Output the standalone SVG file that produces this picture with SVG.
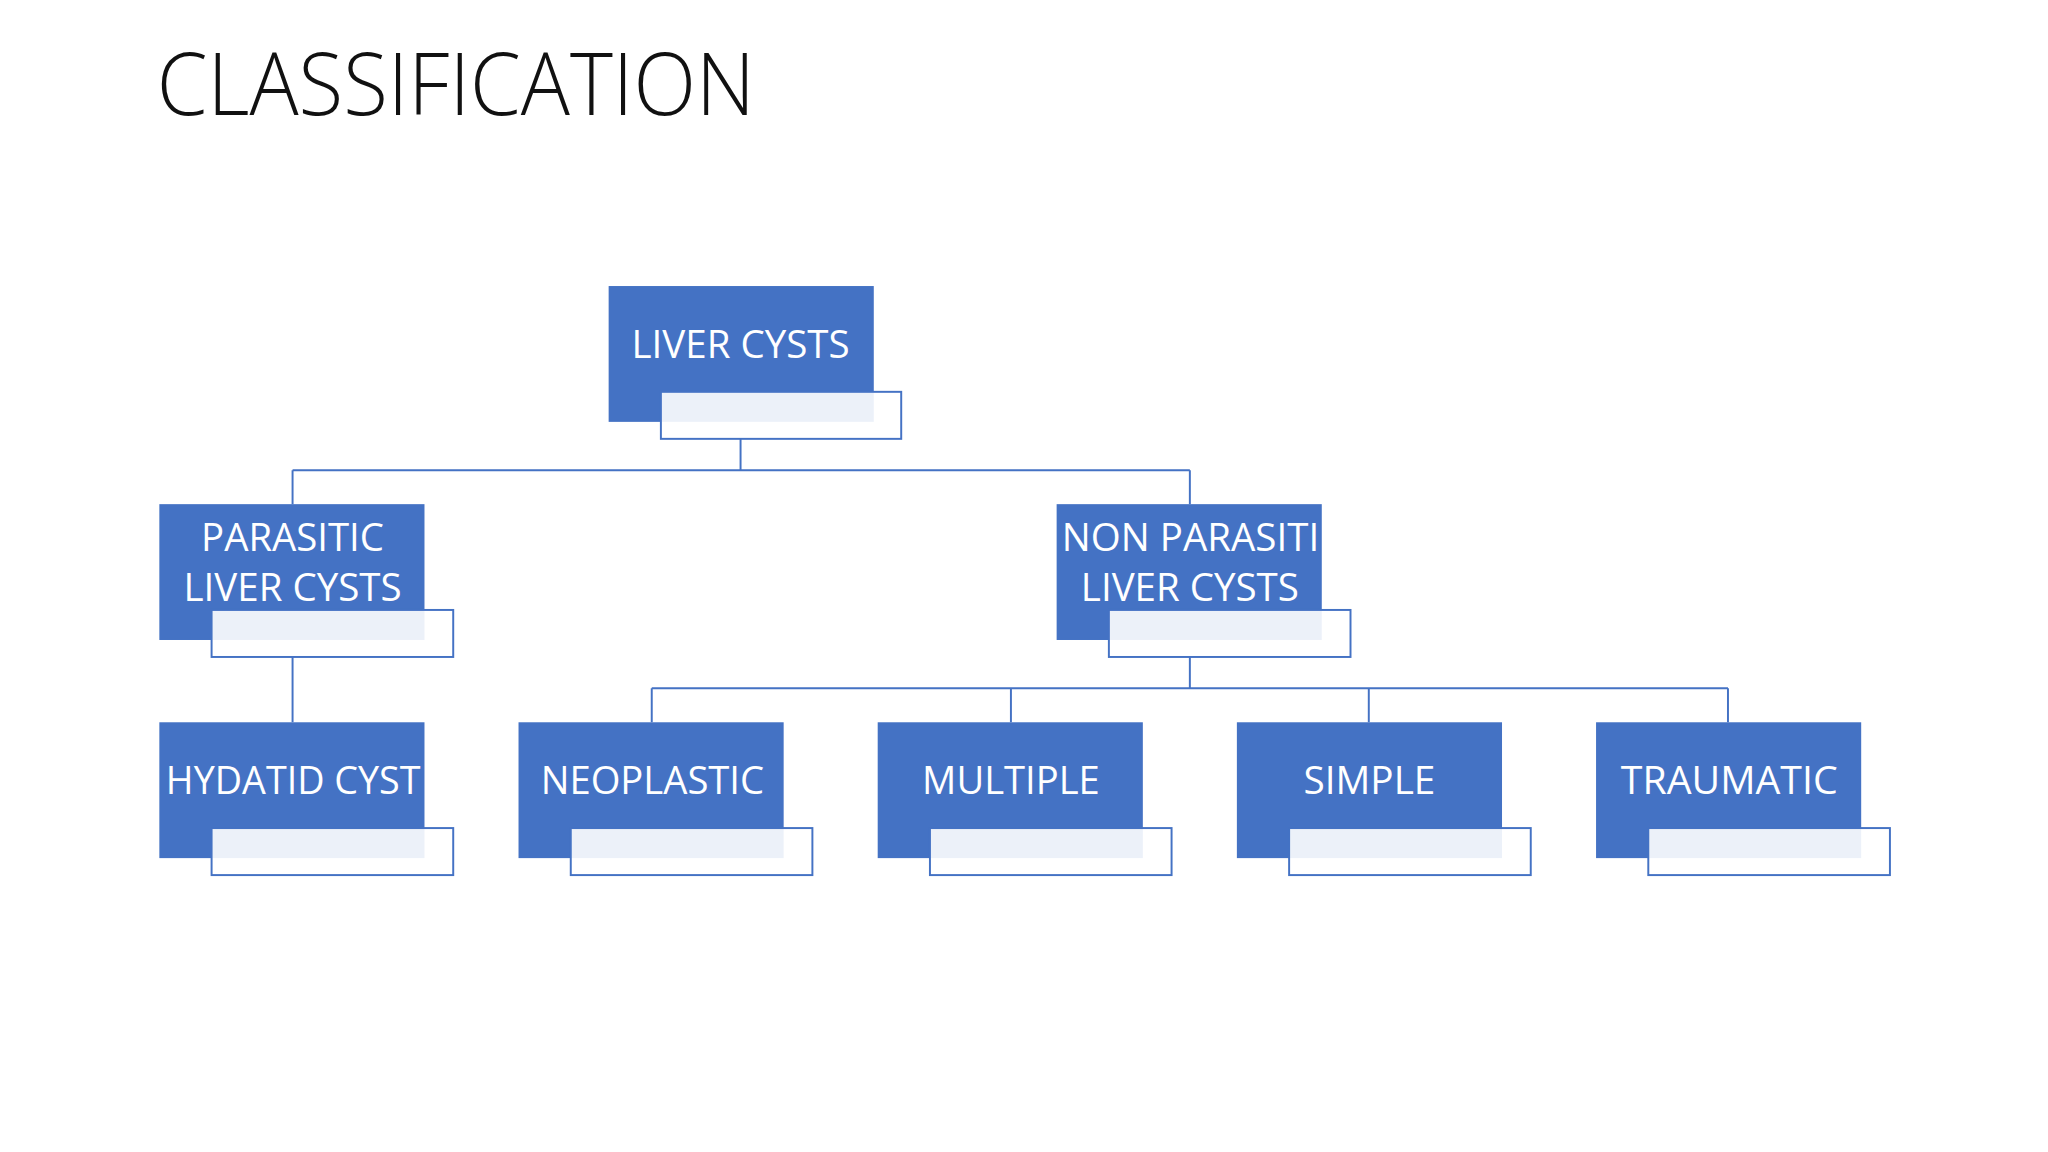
<svg xmlns="http://www.w3.org/2000/svg" width="2048" height="1152" viewBox="0 0 2048 1152">
<style>
.b{fill:#4472C4}
.i{fill:#fff;fill-opacity:0.9;stroke:#4472C4;stroke-width:1.5}
.t{font-family:"Open Sans","Liberation Sans",sans-serif;font-size:29px;fill:#fff;text-anchor:middle}
.c{fill:none;stroke:#4472C4;stroke-width:1.5}
</style>
<rect width="2048" height="1152" fill="#fff"/>
<g transform="scale(1.3061)">
<text x="120" y="88" font-family="Open Sans, Liberation Sans, sans-serif" font-weight="300" font-size="66" textLength="458" lengthAdjust="spacingAndGlyphs" fill="#111">CLASSIFICATION</text>
<g id="connectors">
<path class="c" d="M567 336V360M224 360H911M224 360V386M911 360V386M224 503V553M911 503V527M499 527H1323M499 527V553M774 527V553M1048 527V553M1323 527V553"/>
</g>
<g id="n-liver"><rect class="b" x="466" y="219" width="203" height="104"/><rect class="i" x="506" y="300" width="184" height="36"/><text class="t" x="567" y="274" textLength="167" lengthAdjust="spacingAndGlyphs">LIVER CYSTS</text></g>
<g id="n-parasitic"><rect class="b" x="122" y="386" width="203" height="104"/><rect class="i" x="162" y="467" width="185" height="36"/><text class="t" x="224" y="422" textLength="140" lengthAdjust="spacingAndGlyphs">PARASITIC</text><text class="t" x="224" y="460" textLength="167" lengthAdjust="spacingAndGlyphs">LIVER CYSTS</text></g>
<g id="n-nonparasitic"><rect class="b" x="809" y="386" width="203" height="104"/><rect class="i" x="849" y="467" width="185" height="36"/><text class="t" x="911.5" y="422" textLength="197" lengthAdjust="spacingAndGlyphs">NON PARASITI</text><text class="t" x="911" y="460" textLength="167" lengthAdjust="spacingAndGlyphs">LIVER CYSTS</text></g>
<g id="n-hydatid"><rect class="b" x="122" y="553" width="203" height="104"/><rect class="i" x="162" y="634" width="185" height="36"/><text class="t" x="224.5" y="608" textLength="195" lengthAdjust="spacingAndGlyphs">HYDATID CYST</text></g>
<g id="n-neoplastic"><rect class="b" x="397" y="553" width="203" height="104"/><rect class="i" x="437" y="634" width="185" height="36"/><text class="t" x="499.5" y="608" textLength="171" lengthAdjust="spacingAndGlyphs">NEOPLASTIC</text></g>
<g id="n-multiple"><rect class="b" x="672" y="553" width="203" height="104"/><rect class="i" x="712" y="634" width="185" height="36"/><text class="t" x="774" y="608" textLength="136" lengthAdjust="spacingAndGlyphs">MULTIPLE</text></g>
<g id="n-simple"><rect class="b" x="947" y="553" width="203" height="104"/><rect class="i" x="987" y="634" width="185" height="36"/><text class="t" x="1048.5" y="608" textLength="101" lengthAdjust="spacingAndGlyphs">SIMPLE</text></g>
<g id="n-traumatic"><rect class="b" x="1222" y="553" width="203" height="104"/><rect class="i" x="1262" y="634" width="185" height="36"/><text class="t" x="1324" y="608" textLength="166" lengthAdjust="spacingAndGlyphs">TRAUMATIC</text></g>
</g>
</svg>
